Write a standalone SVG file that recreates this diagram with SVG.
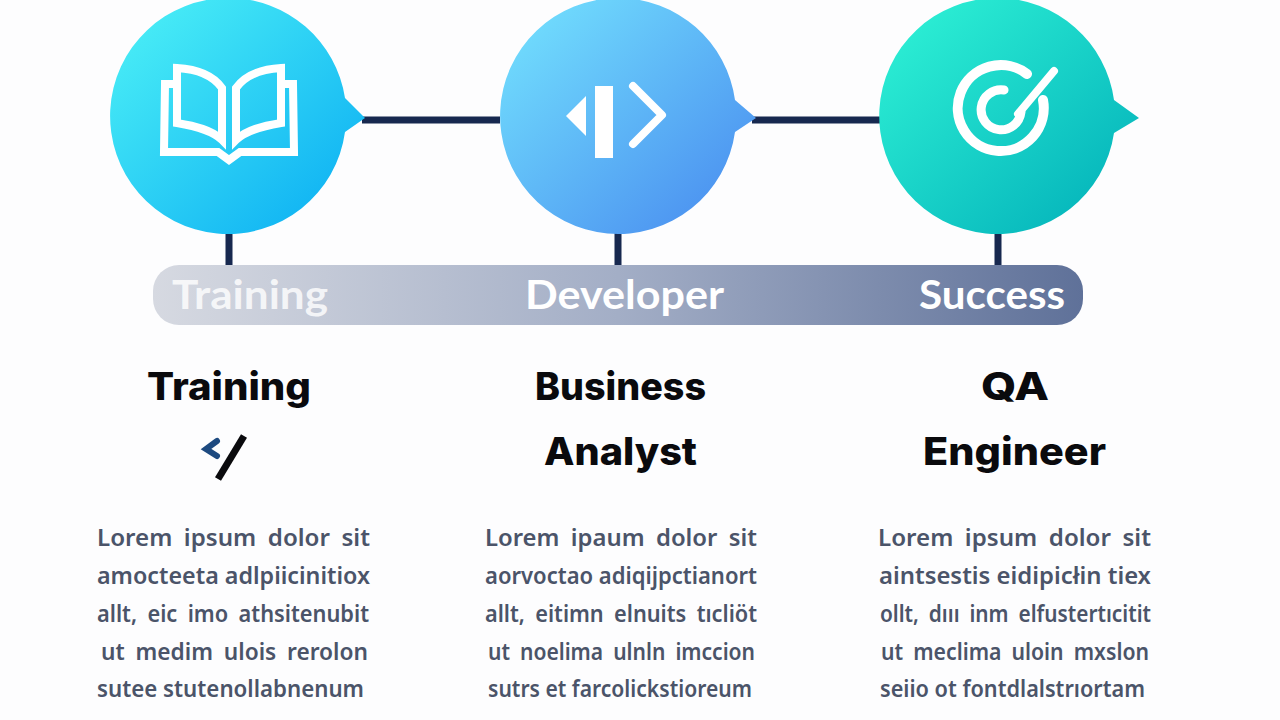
<svg xmlns="http://www.w3.org/2000/svg" width="1280" height="720" viewBox="0 0 1280 720">
<style>
.h{font-family:Inter,"Liberation Sans",sans-serif;font-weight:800;font-size:38px;fill:#0a0a0d}
.b{font-family:"Noto Sans","Liberation Sans",sans-serif;font-weight:600;font-size:23px;fill:#4b5469}
.w{word-spacing:5px}
.t{font-family:Lato,"Noto Sans",sans-serif;font-weight:700;font-size:40px;fill:#fff}
.conn{stroke:#17284f;stroke-width:7;fill:none}
.ico{fill:none;stroke:#fff}
</style>
<defs>
<linearGradient id="g1" x1="0.1" y1="0.1" x2="0.9" y2="0.9"><stop offset="0" stop-color="#48ecf6"/><stop offset="1" stop-color="#0fb2f3"/></linearGradient>
<linearGradient id="g2" x1="0.1" y1="0.1" x2="0.9" y2="0.9"><stop offset="0" stop-color="#70dcfd"/><stop offset="1" stop-color="#4b90f0"/></linearGradient>
<linearGradient id="g3" x1="0.1" y1="0.1" x2="0.9" y2="0.9"><stop offset="0" stop-color="#2ceed4"/><stop offset="1" stop-color="#04b4bb"/></linearGradient>
<linearGradient id="bar" x1="0" y1="0" x2="1" y2="0"><stop offset="0" stop-color="#d6d9e1"/><stop offset="0.5" stop-color="#a3aec6"/><stop offset="1" stop-color="#5f7199"/></linearGradient>
</defs>
<rect width="1280" height="720" fill="#fdfdfe"/>
<g id="connectors">
<path class="conn" d="M362 120H500M752 120H880"/>
<path class="conn" d="M229 232V266M618 232V266M998 232V266"/>
</g>
<g id="node-training">
<path fill="url(#g1)" d="M229 -2A118 118 0 0 1 345 98L365 118L345 132A118 118 0 1 1 229 -2Z"/>
<g class="ico" stroke-width="8">
<path d="M175 84L165 84L164 152H218L229 160L240 152H294L293 84L284 84"/>
<path d="M177 68C195 69 212 74 222 88V140C212 130 195 126 177 123Z"/>
<path d="M281 68C263 69 246 74 236 88V140C246 130 263 126 281 123Z"/>
</g>
</g>
<g id="node-developer">
<path fill="url(#g2)" d="M618 -2A118 118 0 0 1 735 100L756 118L735 132A118 118 0 1 1 618 -2Z"/>
<path fill="#fff" d="M595 86H613V158H595ZM586 96V136L566 116Z"/>
<path class="ico" stroke-width="8" stroke-linecap="round" stroke-linejoin="round" d="M633 86L662 115L633 144"/>
</g>
<g id="node-success">
<path fill="url(#g3)" d="M998 -2A118 118 0 0 1 1114 100L1139 118L1114 133A118 118 0 1 1 998 -2Z"/>
<g class="ico" stroke-linecap="round">
<path stroke-width="10" d="M1027 74A43 43 0 1 0 1043 100"/>
<path stroke-width="9" d="M1004 90A20 20 0 1 0 1021 112"/>
<path stroke-width="8" d="M1054 71L1018 114"/>
</g>
</g>
<g id="bar-group">
<rect x="153" y="265" width="930" height="60" rx="26" fill="url(#bar)"/>
<text class="t" x="172" y="309" textLength="156" lengthAdjust="spacingAndGlyphs" opacity="0.8">Training</text>
<text class="t" x="525" y="309" textLength="199" lengthAdjust="spacingAndGlyphs">Developer</text>
<text class="t" x="919" y="309" textLength="146" lengthAdjust="spacingAndGlyphs">Success</text>
</g>
<g id="col-training">
<text class="h" x="147" y="400" textLength="164" lengthAdjust="spacingAndGlyphs">Training</text>
<path fill="none" stroke="#1d4a80" stroke-width="6" stroke-linecap="round" d="M217 441L206 449L217 456"/>
<path fill="none" stroke="#0a0a0d" stroke-width="7" d="M244 436L218 479"/>
<g class="b">
<text class="w" x="97" y="546" textLength="273" lengthAdjust="spacingAndGlyphs">Lorem ipsum dolor sit</text>
<text x="97" y="584" textLength="273" lengthAdjust="spacingAndGlyphs">amocteeta adlpiicinitiox</text>
<text class="w" x="97" y="622" textLength="272" lengthAdjust="spacingAndGlyphs">allt, eic imo athsitenubit</text>
<text class="w" x="101" y="660" textLength="267" lengthAdjust="spacingAndGlyphs">ut medim ulois rerolon</text>
<text x="97" y="697" textLength="267" lengthAdjust="spacingAndGlyphs">sutee stutenollabnenum</text>
</g>
</g>
<g id="col-analyst">
<text class="h" x="535" y="400" textLength="171" lengthAdjust="spacingAndGlyphs">Business</text>
<text class="h" x="544" y="465" textLength="153" lengthAdjust="spacingAndGlyphs">Analyst</text>
<g class="b">
<text class="w" x="485" y="546" textLength="272" lengthAdjust="spacingAndGlyphs">Lorem ipaum dolor sit</text>
<text x="485" y="584" textLength="272" lengthAdjust="spacingAndGlyphs">aorvoctao adiqijpctianort</text>
<text class="w" x="485" y="622" textLength="272" lengthAdjust="spacingAndGlyphs">allt, eitimn elnuits tıcliöt</text>
<text class="w" x="488" y="660" textLength="267" lengthAdjust="spacingAndGlyphs">ut noelima ulnln imccion</text>
<text x="488" y="697" textLength="264" lengthAdjust="spacingAndGlyphs">sutrs et farcolickstioreum</text>
</g>
</g>
<g id="col-qa">
<text class="h" x="981" y="400" textLength="68" lengthAdjust="spacingAndGlyphs">QA</text>
<text class="h" x="923" y="465" textLength="183" lengthAdjust="spacingAndGlyphs">Engineer</text>
<g class="b">
<text class="w" x="878" y="546" textLength="273" lengthAdjust="spacingAndGlyphs">Lorem ipsum dolor sit</text>
<text x="879" y="584" textLength="272" lengthAdjust="spacingAndGlyphs">aintsestis eidipicłin tiex</text>
<text class="w" x="880" y="622" textLength="271" lengthAdjust="spacingAndGlyphs">ollt, dııı inm elfustertıcitit</text>
<text class="w" x="881" y="660" textLength="268" lengthAdjust="spacingAndGlyphs">ut meclima uloin mxslon</text>
<text x="880" y="697" textLength="265" lengthAdjust="spacingAndGlyphs">seiio ot fontdlalstrıortam</text>
</g>
</g>
</svg>
